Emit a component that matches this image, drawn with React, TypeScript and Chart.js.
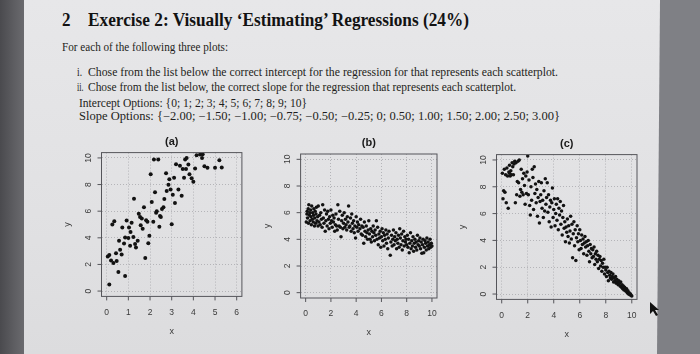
import React, { useEffect, useLayoutEffect, useRef } from "react";
import { Chart, registerables } from "chart.js";
Chart.register(...registerables);

// ---------- data ----------
const pointsA: [number, number][] = [
  [0.12, 0.49], [0.05, 2.6], [0.12, 2.7], [0.2, 2.3], [0.31, 2.1], [0.46, 2.25], [0.26, 5.0], [0.35, 5.25],
  [0.54, 1.43], [0.85, 1.14], [0.43, 2.84], [0.57, 3.78], [0.62, 3.1], [0.69, 2.74], [0.72, 4.77], [0.8, 3.58],
  [0.85, 4.02], [0.92, 5.3], [1.0, 3.98], [1.03, 4.77], [1.08, 3.4], [1.1, 4.44], [1.15, 5.14], [1.23, 4.07],
  [1.26, 6.94], [1.31, 3.53], [1.35, 3.28], [1.43, 3.78], [1.48, 5.8], [1.54, 5.56], [1.57, 4.94], [1.62, 5.46],
  [1.66, 4.69], [1.72, 6.3], [1.78, 2.49], [1.82, 5.31], [1.88, 5.21], [1.92, 3.6], [1.97, 4.15], [2.03, 8.77],
  [2.08, 6.69], [2.15, 5.21], [2.18, 9.88], [2.23, 7.43], [2.28, 5.88], [2.31, 6.0], [2.38, 9.88], [2.43, 4.84],
  [2.46, 5.63], [2.5, 5.56], [2.55, 6.17], [2.62, 6.3], [2.66, 6.91], [2.74, 8.84], [2.77, 7.51], [2.85, 7.98],
  [2.89, 8.4], [2.95, 7.63], [3.0, 5.01], [3.05, 7.23], [3.11, 8.52], [3.15, 6.62], [3.2, 9.53], [3.31, 7.63],
  [3.38, 9.41], [3.46, 7.16], [3.51, 9.16], [3.57, 8.52], [3.62, 9.88], [3.66, 9.16], [3.69, 10.0], [3.77, 9.51],
  [3.82, 8.77], [3.92, 8.47], [4.0, 8.22], [4.08, 9.21], [4.15, 10.2], [4.31, 10.25], [4.4, 10.0], [4.43, 10.27],
  [4.51, 9.38], [4.65, 9.26], [5.0, 9.26], [5.2, 9.83], [5.31, 9.28],
];

const pointsB: [number, number][] = [
  [0.05, 5.3], [0.1, 5.9], [0.12, 6.1], [0.15, 5.6], [0.2, 6.3], [0.22, 5.2], [0.25, 6.6], [0.3, 5.8], [0.33, 6.0],
  [0.35, 5.4], [0.4, 6.2], [0.42, 5.7], [0.45, 5.1], [0.48, 6.5],
  [0.52, 5.5], [0.55, 6.0], [0.6, 5.3], [0.62, 5.8], [0.65, 6.3], [0.7, 5.0], [0.72, 5.6], [0.75, 6.1], [0.8, 5.2],
  [0.82, 5.9], [0.85, 6.4], [0.9, 5.4], [0.95, 5.7], [0.98, 5.0],
  [1.0, 6.5], [1.05, 5.3], [1.1, 5.8], [1.15, 5.1], [1.2, 6.0], [1.25, 5.5], [1.3, 4.9], [1.35, 6.6], [1.4, 5.6], [1.45, 5.2],
  [1.5, 6.2], [1.55, 4.6], [1.6, 5.4], [1.65, 5.9], [1.7, 5.0], [1.75, 6.1], [1.8, 5.5], [1.85, 4.8], [1.9, 5.7], [1.95, 5.2],
  [2.0, 6.2], [2.05, 5.4], [2.1, 4.9], [2.15, 5.8], [2.2, 5.3], [2.25, 5.6], [2.3, 4.6], [2.35, 5.1], [2.4, 5.9], [2.45, 5.0],
  [2.5, 4.7], [2.55, 6.6], [2.6, 5.5], [2.65, 5.0], [2.7, 6.1], [2.75, 4.9], [2.8, 4.2], [2.85, 5.4], [2.9, 5.8], [2.95, 4.8],
  [3.0, 5.2], [3.05, 6.0], [3.1, 4.9], [3.15, 5.5], [3.2, 5.1], [3.25, 4.7], [3.3, 5.7], [3.35, 5.3], [3.4, 6.5], [3.45, 4.9],
  [3.5, 5.0], [3.55, 5.6], [3.6, 4.6], [3.65, 5.9], [3.7, 5.2], [3.75, 4.8], [3.8, 5.4], [3.85, 4.5], [3.9, 5.0], [3.95, 4.1],
  [4.0, 5.7], [4.05, 4.9], [4.1, 5.3], [4.15, 4.6], [4.2, 5.1], [4.3, 4.8], [4.35, 5.5], [4.4, 4.4], [4.45, 5.0],
  [4.5, 4.3], [4.55, 4.9], [4.6, 3.7], [4.65, 5.3], [4.7, 4.6], [4.75, 4.2], [4.8, 5.0], [4.85, 4.5], [4.9, 4.0], [4.95, 4.7],
  [5.0, 5.4], [5.05, 4.4], [5.1, 4.0], [5.15, 4.8], [5.2, 3.8], [5.25, 4.6], [5.3, 4.2], [5.35, 5.0], [5.4, 4.5], [5.45, 3.9],
  [5.5, 4.7], [5.55, 4.3], [5.6, 5.4], [5.65, 4.0], [5.7, 4.9], [5.75, 3.6], [5.8, 4.4], [5.85, 4.1], [5.9, 4.6], [5.95, 3.4],
  [6.0, 4.2], [6.05, 4.8], [6.1, 3.9], [6.15, 4.5], [6.2, 3.5], [6.25, 4.3], [6.3, 4.0], [6.35, 4.7], [6.4, 3.7], [6.45, 4.4],
  [6.5, 3.3], [6.55, 4.1], [6.6, 4.6], [6.7, 2.8], [6.75, 3.8], [6.8, 4.3], [6.85, 3.5], [6.9, 4.0], [6.95, 4.7],
  [7.0, 3.6], [7.05, 4.2], [7.1, 3.9], [7.15, 4.5], [7.2, 3.3], [7.25, 4.0], [7.3, 3.7], [7.35, 4.3], [7.4, 3.4], [7.45, 4.8],
  [7.5, 4.1], [7.55, 3.6], [7.6, 4.4], [7.65, 3.2], [7.7, 3.9], [7.75, 4.6], [7.8, 3.5], [7.85, 4.2], [7.9, 3.8], [7.95, 4.0],
  [8.0, 3.6], [8.05, 4.3], [8.1, 3.4], [8.15, 4.0], [8.2, 3.0], [8.25, 3.7], [8.3, 4.5], [8.35, 3.3], [8.4, 3.9], [8.45, 3.5],
  [8.5, 4.2], [8.55, 3.1], [8.6, 3.7], [8.65, 4.0], [8.7, 3.4], [8.75, 3.8], [8.8, 3.2], [8.85, 4.3], [8.9, 3.6], [8.95, 3.9],
  [9.0, 3.5], [9.05, 4.1], [9.1, 3.3], [9.15, 3.8], [9.2, 2.95], [9.25, 3.6], [9.3, 4.0], [9.35, 3.0], [9.4, 3.4], [9.45, 3.9],
  [9.5, 3.7], [9.55, 3.2], [9.6, 4.1], [9.65, 3.5], [9.7, 3.8], [9.75, 3.3], [9.8, 3.6], [9.85, 4.0], [9.9, 3.4], [9.95, 3.7], [10.0, 3.5],
];

const pointsC: [number, number][] = [
  [0.05, 9.0], [0.1, 7.1], [0.15, 7.7], [0.2, 9.3], [0.25, 7.6], [0.3, 8.9], [0.35, 6.8], [0.4, 9.4], [0.45, 8.8], [0.5, 6.4],
  [0.55, 9.1], [0.6, 9.6], [0.65, 8.8], [0.7, 9.2], [0.75, 8.9], [0.8, 9.8], [0.85, 9.5], [0.9, 8.9], [0.95, 9.7], [0.6, 9.0],
  [1.0, 9.9], [1.05, 6.8], [1.1, 9.8], [1.15, 7.4], [1.2, 8.4], [1.25, 9.9], [1.3, 8.3], [1.35, 10.0], [1.4, 7.3], [1.45, 7.8],
  [1.5, 9.3], [1.55, 7.6], [1.6, 8.6], [1.65, 7.4], [1.7, 9.0], [1.75, 8.1], [1.8, 6.7], [1.85, 8.8], [1.9, 7.5], [1.95, 9.1], [2.0, 10.3],
  [2.05, 7.4], [2.1, 8.5], [2.15, 6.6], [2.2, 5.9], [2.25, 8.0], [2.3, 7.0], [2.35, 9.3], [2.4, 8.7], [2.45, 6.3], [2.5, 9.5],
  [2.55, 7.5], [2.6, 8.2], [2.65, 6.8], [2.7, 7.8], [2.75, 5.8], [2.8, 7.2], [2.85, 8.4], [2.9, 5.3], [2.95, 6.9], [3.0, 7.4],
  [3.05, 8.3], [3.1, 6.4], [3.15, 7.0], [3.2, 5.7], [3.25, 7.7], [3.3, 6.2], [3.35, 8.6], [3.4, 6.7], [3.45, 7.2], [3.5, 8.3],
  [3.55, 6.1], [3.6, 7.4], [3.65, 5.4], [3.7, 6.5], [3.75, 7.0], [3.8, 5.0], [3.85, 6.8], [3.9, 7.9], [3.95, 5.7], [4.0, 6.3],
  [4.05, 7.1], [4.1, 5.1], [4.15, 6.0], [4.2, 6.7], [4.25, 5.5], [4.3, 7.1], [4.35, 4.8], [4.4, 6.4], [4.45, 5.9], [4.5, 6.9],
  [4.55, 5.2], [4.6, 6.2], [4.65, 4.4], [4.7, 5.7], [4.75, 6.6], [4.8, 4.9], [4.85, 5.4], [4.9, 3.9], [4.95, 5.0], [5.0, 4.6],
  [5.05, 5.6], [5.1, 4.3], [5.15, 5.1], [5.2, 3.8], [5.25, 4.7], [5.3, 5.8], [5.35, 4.1], [5.4, 5.2], [5.45, 2.7], [5.5, 4.5],
  [5.55, 5.4], [5.6, 3.6], [5.65, 4.8], [5.7, 2.5], [5.75, 4.2], [5.8, 5.1], [5.85, 3.9], [5.9, 4.5], [5.95, 3.3], [6.0, 4.8],
  [6.05, 4.0], [6.1, 3.4], [6.15, 4.4], [6.2, 3.7], [6.25, 4.1], [6.3, 3.0], [6.35, 3.8], [6.4, 4.3], [6.45, 3.5], [6.5, 3.9],
  [6.55, 2.9], [6.6, 3.6], [6.65, 4.0], [6.7, 3.2], [6.75, 2.4], [6.8, 3.7], [6.85, 3.0], [6.9, 3.4], [6.95, 2.7], [7.0, 3.3],
  [7.05, 2.8], [7.1, 3.5], [7.15, 2.2], [7.2, 3.0], [7.25, 2.6], [7.3, 3.2], [7.35, 2.4], [7.4, 2.9], [7.45, 1.9], [7.5, 2.6],
  [7.55, 2.8], [7.6, 2.1], [7.65, 2.5], [7.7, 1.7], [7.75, 2.3], [7.8, 2.0], [7.85, 2.6], [7.9, 1.5], [7.95, 2.0], [8.0, 1.8],
  [8.05, 1.3], [8.1, 2.0], [8.15, 1.6], [8.2, 1.0], [8.25, 1.7], [8.3, 1.4], [8.35, 1.2], [8.4, 1.6], [8.45, 1.1], [8.5, 1.3],
  [8.55, 1.5], [8.6, 0.9], [8.65, 1.2], [8.7, 1.0], [8.75, 1.3], [8.8, 0.8], [8.85, 1.1], [8.9, 0.9], [8.95, 0.7], [9.0, 1.0],
  [9.05, 0.8], [9.1, 0.6], [9.15, 0.9], [9.2, 0.5], [9.25, 0.7], [9.3, 0.4], [9.35, 0.6], [9.4, 0.3], [9.45, 0.5], [9.5, 0.35],
  [9.55, 0.2], [9.6, 0.4], [9.65, 0.1], [9.7, 0.25], [9.75, 0.0], [9.8, 0.1], [9.85, -0.05], [9.9, 0.0], [9.95, -0.1], [10.0, -0.15],
];

const xTicksA = [0, 1, 2, 3, 4, 5, 6];
const xTicksBC = [0, 2, 4, 6, 8, 10];
const yTicks = [0, 2, 4, 6, 8, 10];
const titles = ["(a)", "(b)", "(c)"];

// ---------- chart ----------
const AXIS_FONT = '"Liberation Sans", Arial, sans-serif';

const rFrame = {
  id: "rFrame",
  afterDatasetsDraw(chart: any) {
    const { ctx, chartArea: a, scales } = chart;
    ctx.save();
    ctx.strokeStyle = "#55555a";
    ctx.lineWidth = 1;
    ctx.strokeRect(a.left, a.top, a.right - a.left, a.bottom - a.top);
    ctx.beginPath();
    const xs = scales.x;
    const ys = scales.y;
    xs.ticks.forEach((t: any) => {
      const p = xs.getPixelForValue(t.value);
      ctx.moveTo(p, a.bottom);
      ctx.lineTo(p, a.bottom + 4);
    });
    ys.ticks.forEach((t: any) => {
      const p = ys.getPixelForValue(t.value);
      ctx.moveTo(a.left, p);
      ctx.lineTo(a.left - 4, p);
    });
    ctx.stroke();
    ctx.restore();
  },
};

type Box = { l: number; r: number; t: number; b: number };
type Props = {
  left: number; top: number; width: number; height: number; box: Box;
  points: [number, number][]; xTicks: number[]; xMin: number; xMax: number;
  title: string; radius: number;
};

function Scatter(p: Props) {
  const ref = useRef<HTMLCanvasElement>(null);
  useEffect(() => {
    if (!ref.current) return;
    const yAxisW = p.box.l - p.left;
    const padR = p.left + p.width - p.box.r;
    const titlePadTop = p.box.t - p.top - 17.2;
    const padB = p.top + p.height - p.box.b - 45;
    const tickFont = { family: AXIS_FONT, size: 8.5 };
    const chart = new Chart(ref.current, {
      type: "scatter",
      data: {
        datasets: [
          {
            data: p.points.map(([x, y]) => ({ x, y })),
            backgroundColor: "#121212",
            borderWidth: 0,
            pointRadius: p.radius,
          },
        ],
      },
      options: {
        animation: false,
        responsive: false,
        maintainAspectRatio: false,
        events: [],
        layout: { padding: { left: 0, right: padR, top: 0, bottom: padB } },
        plugins: {
          legend: { display: false },
          tooltip: { enabled: false },
          title: {
            display: true,
            text: p.title,
            fullSize: false,
            color: "#1a1a1a",
            font: { family: AXIS_FONT, size: 11, weight: "bold", lineHeight: 1.2 },
            padding: { top: titlePadTop, bottom: 4 },
          },
        },
        scales: {
          x: {
            type: "linear",
            min: p.xMin,
            max: p.xMax,
            afterBuildTicks: (s: any) => { s.ticks = p.xTicks.map((v) => ({ value: v })); },
            afterFit: (s: any) => { s.height = 45; },
            grid: { color: "#b4b4b8", lineWidth: 1, drawTicks: false },
            border: { display: false, dash: [1, 2] },
            ticks: { font: tickFont, color: "#3a3a3a", padding: 11, callback: (v: any) => String(v) },
            title: {
              display: true, text: "x", color: "#3a3a3a",
              font: { family: AXIS_FONT, size: 9, lineHeight: 1.2 },
              padding: { top: 0, bottom: 4.6 },
            },
          },
          y: {
            type: "linear",
            min: -0.4,
            max: 10.4,
            afterBuildTicks: (s: any) => { s.ticks = yTicks.map((v) => ({ value: v })); },
            afterFit: (s: any) => { s.width = yAxisW; },
            grid: { color: "#b4b4b8", lineWidth: 1, drawTicks: false },
            border: { display: false, dash: [1, 2] },
            ticks: {
              font: tickFont, color: "#3a3a3a", padding: 8.3, minRotation: 90, maxRotation: 90,
              crossAlign: "center", callback: (v: any) => String(v),
            },
            title: {
              display: true, text: "y", color: "#3a3a3a",
              font: { family: AXIS_FONT, size: 9, lineHeight: 1.2 },
              padding: { top: yAxisW - 33.5 - 5.4, bottom: 0 },
            },
          },
        },
      } as any,
      plugins: [rFrame],
    });
    return () => chart.destroy();
  }, []);
  return (
    <canvas
      ref={ref}
      width={p.width}
      height={p.height}
      style={{ position: "absolute", left: p.left, top: p.top, width: p.width, height: p.height }}
    />
  );
}

// ---------- text ----------
function FitText(props: { x: number; cy: number; w: number; size: number; bold?: boolean; color?: string; children: string }) {
  const ref = useRef<HTMLSpanElement>(null);
  useLayoutEffect(() => {
    const el = ref.current;
    if (!el) return;
    el.style.transform = "none";
    const nat = el.getBoundingClientRect().width;
    if (nat > 0) el.style.transform = `scaleX(${props.w / nat})`;
  }, [props.w]);
  return (
    <span
      ref={ref}
      style={{
        position: "absolute",
        left: props.x,
        top: props.cy - props.size * 0.62,
        fontSize: props.size,
        lineHeight: `${props.size * 1.2}px`,
        whiteSpace: "nowrap",
        transformOrigin: "0 0",
        fontFamily: '"Liberation Serif", "DejaVu Serif", serif',
        fontWeight: props.bold ? 700 : 400,
        color: props.color || "#1e1e20",
      }}
    >
      {props.children}
    </span>
  );
}

export default function App() {
  return (
    <div style={{ position: "absolute", left: 0, top: 0, width: 700, height: 354, overflow: "hidden", background: "#7f8085" }}>
      <div style={{ position: "absolute", left: 0, top: 0, width: 24, height: 354, background: "linear-gradient(90deg,#4a4a4e,#5e5e62 60%,#6a6a6e)" }} />
      <div
        style={{
          position: "absolute", left: 24, top: 0, width: 640, height: 354,
          background: "linear-gradient(180deg,#e7e7e9,#e1e1e3 60%,#dcdcde)",
          clipPath: "polygon(0 0, 636px 0, 633px 354px, 0 354px)",
        }}
      />
      <FitText x={62} cy={21} w={8.5} size={18} bold color="#121212">2</FitText>
      <FitText x={87.5} cy={21} w={381} size={18} bold color="#121212">Exercise 2: Visually ‘Estimating’ Regressions (24%)</FitText>
      <FitText x={62} cy={47} w={166} size={11.8}>For each of the following three plots:</FitText>
      <FitText x={77} cy={72} w={5} size={11.8}>i.</FitText>
      <FitText x={88} cy={72} w={470} size={11.8}>Chose from the list below the correct intercept for the regression for that represents each scatterplot.</FitText>
      <FitText x={77} cy={87} w={6.5} size={11.8}>ii.</FitText>
      <FitText x={88} cy={87} w={428} size={11.8}>Chose from the list below, the correct slope for the regression that represents each scatterplot.</FitText>
      <FitText x={79} cy={103} w={228} size={11.8}>Intercept Options: {"{"}0; 1; 2; 3; 4; 5; 6; 7; 8; 9; 10{"}"}</FitText>
      <FitText x={79} cy={116} w={481} size={11.8}>Slope Options: {"{"}−2.00; −1.50; −1.00; −0.75; −0.50; −0.25; 0; 0.50; 1.00; 1.50; 2.00; 2.50; 3.00{"}"}</FitText>

      <Scatter left={55} top={130} width={200} height={224} box={{ l: 101.5, r: 241.9, t: 152.6, b: 296.4 }}
        points={pointsA} xTicks={xTicksA} xMin={-0.24} xMax={6.24} title={titles[0]} radius={2} />
      <Scatter left={254} top={130} width={200} height={224} box={{ l: 300.6, r: 437, t: 154, b: 298 }}
        points={pointsB} xTicks={xTicksBC} xMin={-0.4} xMax={10.4} title={titles[1]} radius={1.75} />
      <Scatter left={450} top={130} width={205} height={224} box={{ l: 496.5, r: 637, t: 154.6, b: 299.4 }}
        points={pointsC} xTicks={xTicksBC} xMin={-0.4} xMax={10.4} title={titles[2]} radius={1.75} />

      <svg style={{ position: "absolute", left: 648, top: 300, width: 14, height: 18 }} viewBox="0 0 14 18">
        <polygon points="2,2 2,14 5,11 8,16 10,15 7,10 11,10" fill="#111" />
      </svg>
    </div>
  );
}
